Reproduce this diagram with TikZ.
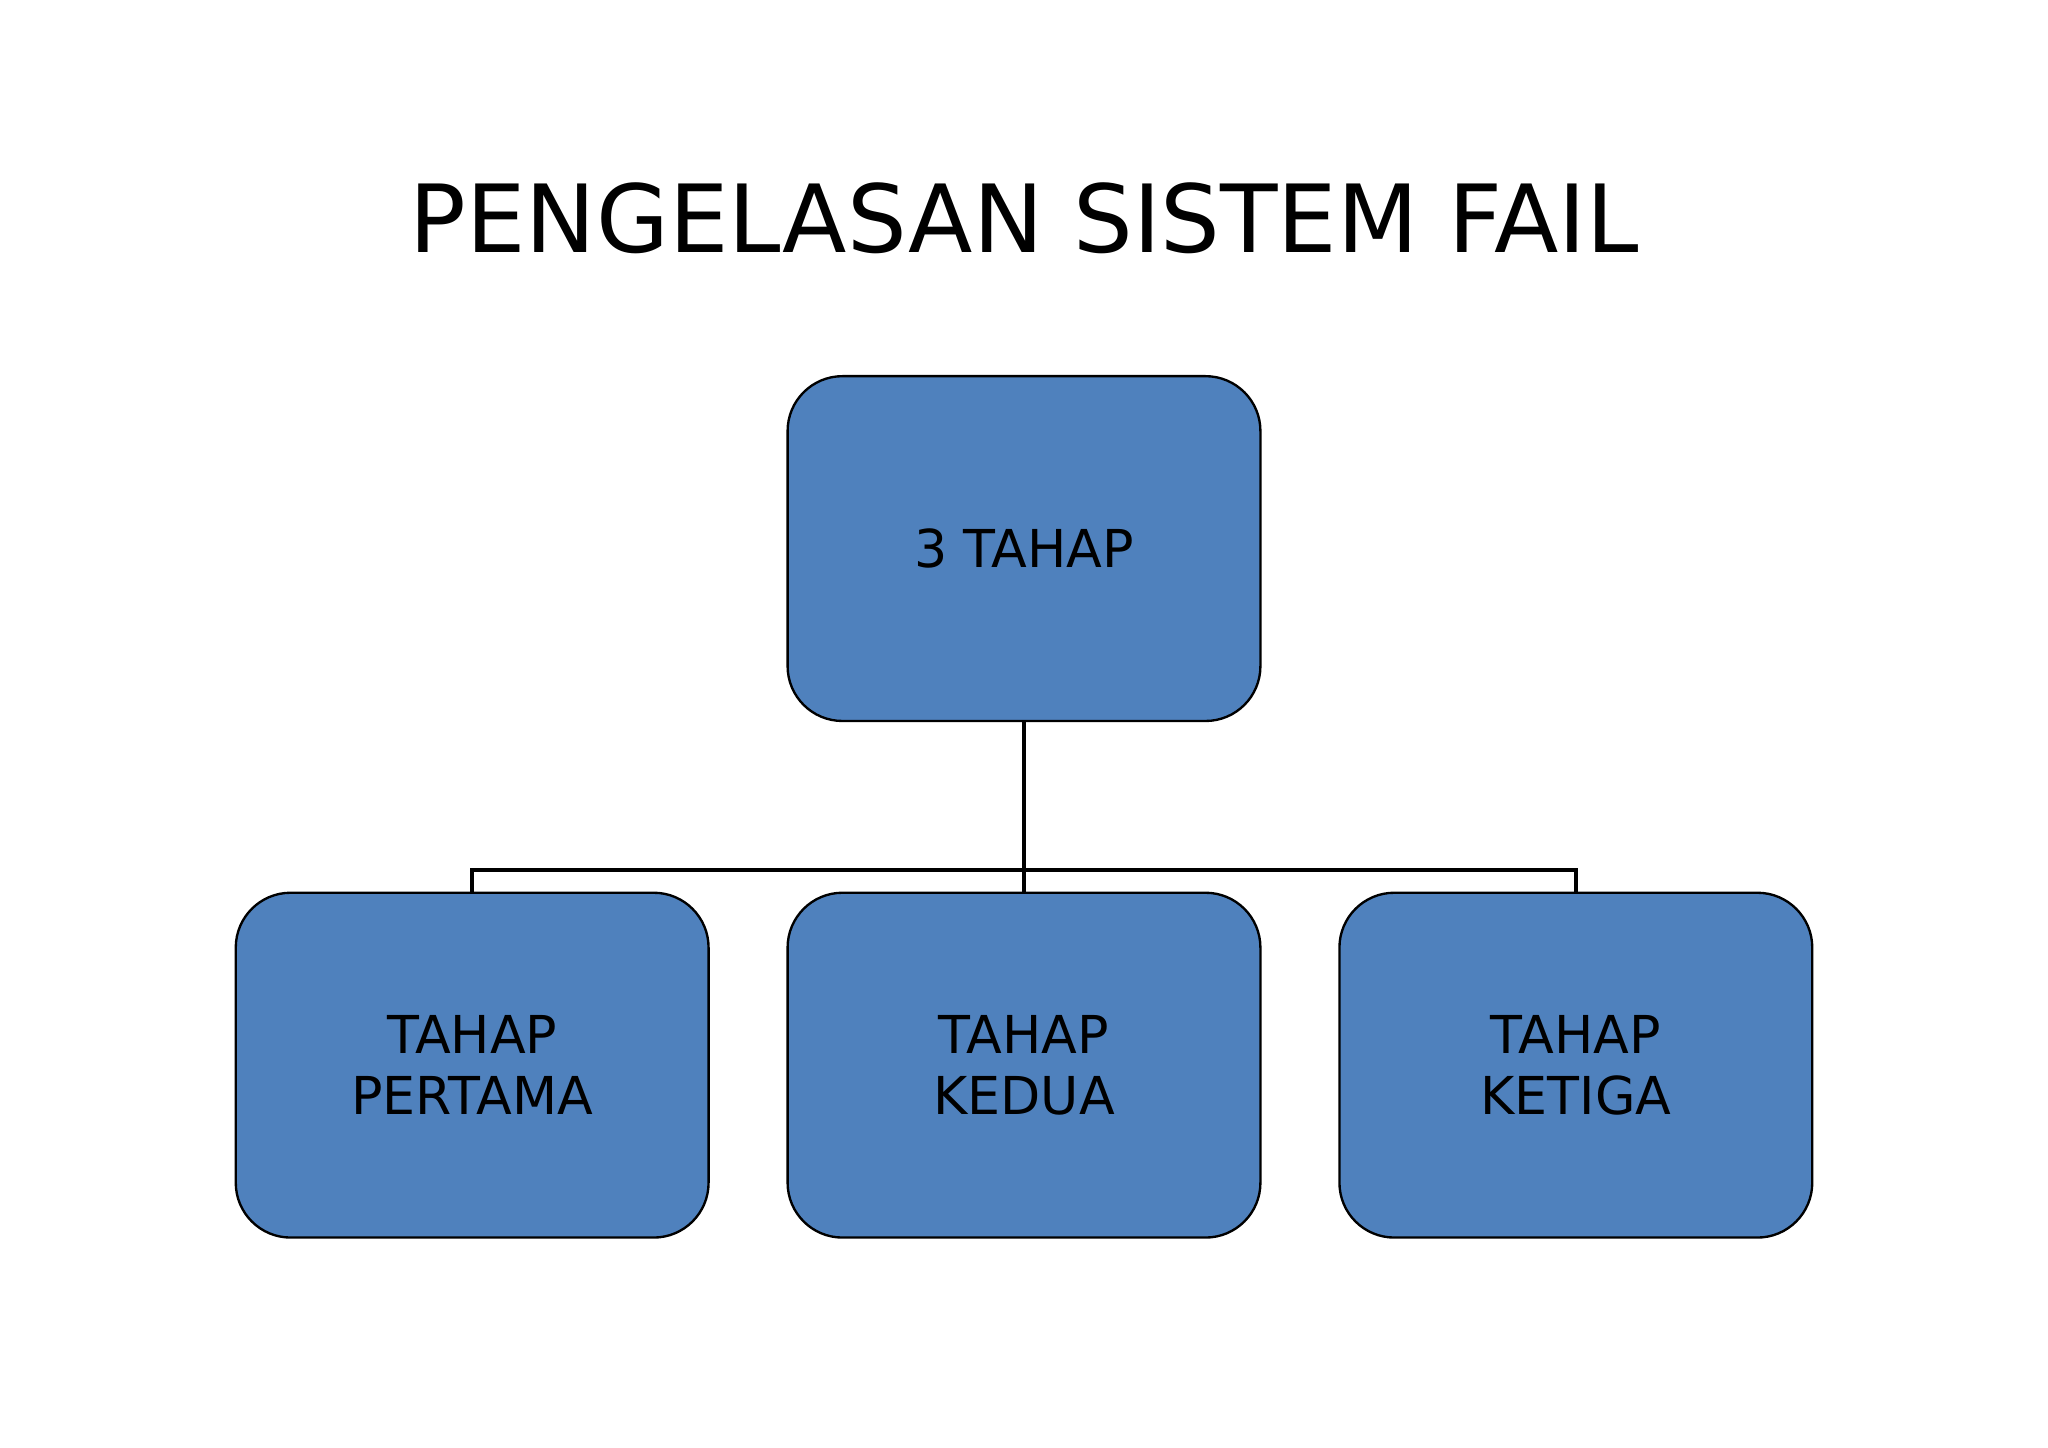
\documentclass[tikz,border=0pt]{standalone}
\usepackage{fontspec}
\setmainfont{DejaVu Sans}
\begin{document}
\begin{tikzpicture}[x=0.5pt,y=-0.5pt,
  box/.style={draw=black,line width=0.9pt,fill={rgb,255:red,79;green,129;blue,189},rounded corners=21pt,minimum width=181pt,minimum height=132pt,inner sep=0pt,align=center,font=\fontsize{20}{23.5}\selectfont},
  conn/.style={line width=1.5pt}]
\useasboundingbox (0,0) rectangle (1568,1108);
\node[font=\fontsize{36}{40}\selectfont] (title) at (784,167) {PENGELASAN SISTEM FAIL};
\node[box] (top) at (784,420) {3 TAHAP};
\node[box] (b1) at (361.5,815.5) {TAHAP\\PERTAMA};
\node[box] (b2) at (784,815.5) {TAHAP\\KEDUA};
\node[box] (b3) at (1206.5,815.5) {TAHAP\\KETIGA};
\coordinate (j) at (784,666);
\draw[conn] (top.south) -- (b2.north);
\draw[conn] (b1.north) |- (j) -| (b3.north);
\end{tikzpicture}
\end{document}
